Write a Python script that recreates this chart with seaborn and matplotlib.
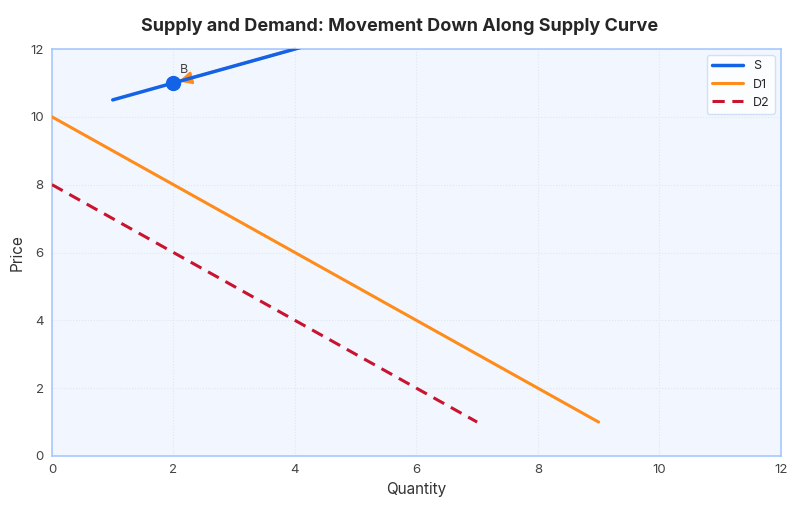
import numpy as np
import matplotlib.pyplot as plt
import pandas as pd
import seaborn as sns

sns.set_theme(style="white")
plt.rcParams['font.family'] = ['Inter', 'DejaVu Sans']

# curves
s_qty = [1, 8]
s_price = [10.5, 14]
d1_qty = [0, 9]
d1_price = [10, 1]
d2_qty = [0, 7]
d2_price = [8, 1]
point_b = (2, 11)
arrow_from = (4, 12)

fig = plt.figure(figsize=(8, 5.08), dpi=100)
ax = fig.add_axes([0.065, 0.1024, 0.911, 0.8011])
ax.set_facecolor('#f2f7ff')

ax.annotate('', xy=point_b, xytext=arrow_from,
            arrowprops=dict(arrowstyle='-|>', color='#ff8c1a', lw=2, mutation_scale=18,
                            shrinkA=0, shrinkB=4), zorder=2)

sns.lineplot(x=s_qty, y=s_price, ax=ax, color='#1463e6', lw=2.5, label='S', zorder=3)
sns.lineplot(x=d1_qty, y=d1_price, ax=ax, color='#ff8c1a', lw=2.2, label='D1', zorder=3)
sns.lineplot(x=d2_qty, y=d2_price, ax=ax, color='#c8142e', lw=2.2, label='D2', zorder=3)
ax.lines[-1].set_dashes([4, 2.5])

ax.plot(*point_b, 'o', color='#1463e6', ms=10, zorder=4)
ax.text(point_b[0] + 0.1, point_b[1] + 0.3, 'B', fontsize=9, color='#444444')

ax.set_xlim(0, 12)
ax.set_ylim(0, 12)
ax.set_xticks(range(0, 13, 2))
ax.set_yticks(range(0, 13, 2))
ax.grid(True, linestyle=':', color='#e0e6f0', lw=0.8)
for sp in ax.spines.values():
    sp.set_color('#a6c8ff')
    sp.set_linewidth(1.2)
ax.tick_params(labelsize=9.5, colors='#444444', length=0, pad=6)
ax.set_xlabel('Quantity', fontsize=11, color='#333333')
ax.set_ylabel('Price', fontsize=11, color='#333333')
fig.suptitle('Supply and Demand: Movement Down Along Supply Curve', fontsize=13,
             fontweight='bold', y=0.965)
leg = ax.legend(loc='upper right', fontsize=9, frameon=True, handlelength=2.5)
leg.get_frame().set_edgecolor('#c8daf5')
leg.get_frame().set_facecolor('white')

fig.savefig('out.png', dpi=100)
